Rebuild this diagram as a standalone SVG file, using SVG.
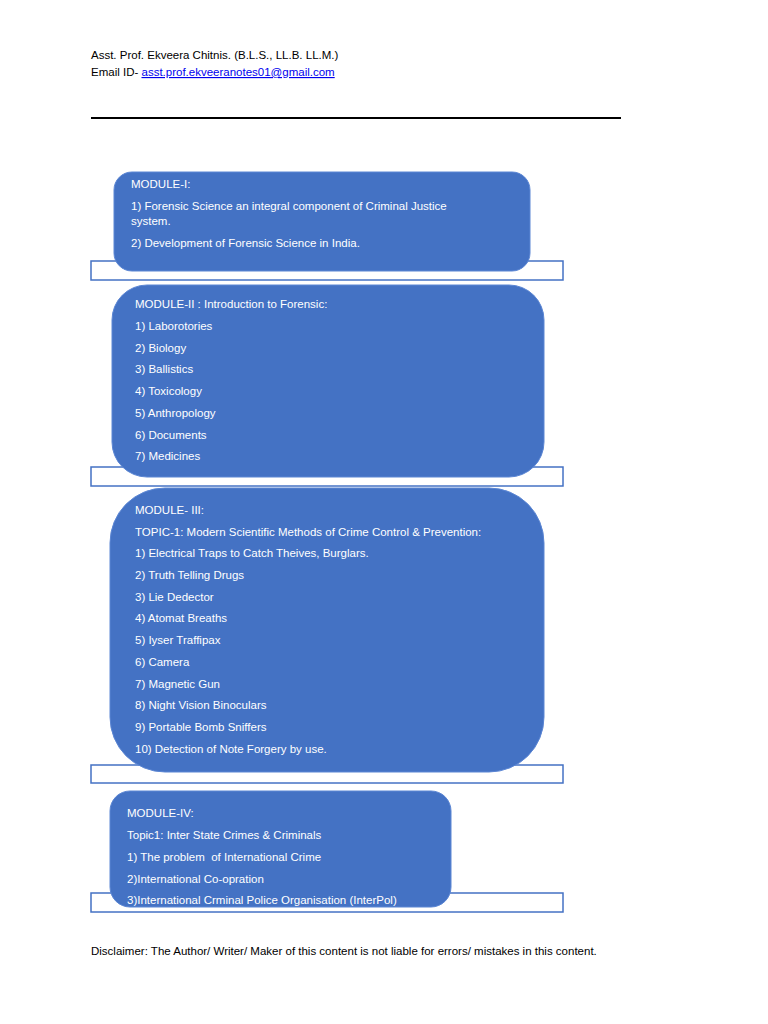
<svg xmlns="http://www.w3.org/2000/svg" width="768" height="1024" viewBox="0 0 768 1024">
<style>
text{font-family:"Liberation Sans",Arial,sans-serif;font-size:11.5px}
.w{fill:#fff}
.k{fill:#000}
.box{fill:#4472c4;stroke:#5b86d4;stroke-width:1}
.bar{fill:#fff;stroke:#4472c4;stroke-width:1.5}
</style>
<rect width="768" height="1024" fill="#fff"/>
<text class="k" x="91" y="59">Asst. Prof. Ekveera Chitnis. (B.L.S., LL.B. LL.M.)</text>
<text class="k" x="91" y="76">Email ID- <tspan fill="#0000ee" text-decoration="underline">asst.prof.ekveeranotes01@gmail.com</tspan></text>
<line x1="91" y1="118" x2="621" y2="118" stroke="#000" stroke-width="2"/>
<g id="connectors">
<rect class="bar" x="91" y="261" width="472" height="19"/>
<rect class="bar" x="91" y="467" width="472" height="19"/>
<rect class="bar" x="91" y="765" width="472" height="18"/>
<rect class="bar" x="91" y="893" width="472" height="19"/>
</g>
<g id="m1">
<rect class="box" x="114" y="172" width="416" height="99" rx="18"/>
<text class="w" x="131" y="188">MODULE-I:</text>
<text class="w" x="131" y="210">1) Forensic Science an integral component of Criminal Justice</text>
<text class="w" x="131" y="225">system.</text>
<text class="w" x="131" y="247">2) Development of Forensic Science in India.</text>
</g>
<g id="m2">
<rect class="box" x="112" y="285" width="432" height="192" rx="35"/>
<text class="w" x="135" y="308">MODULE-II : Introduction to Forensic:</text>
<text class="w" x="135" y="330">1) Laborotories</text>
<text class="w" x="135" y="352">2) Biology</text>
<text class="w" x="135" y="373">3) Ballistics</text>
<text class="w" x="135" y="395">4) Toxicology</text>
<text class="w" x="135" y="417">5) Anthropology</text>
<text class="w" x="135" y="439">6) Documents</text>
<text class="w" x="135" y="460">7) Medicines</text>
</g>
<g id="m3">
<rect class="box" x="110" y="488" width="434" height="284" rx="55"/>
<text class="w" x="135" y="514">MODULE- III:</text>
<text class="w" x="135" y="536">TOPIC-1: Modern Scientific Methods of Crime Control &amp; Prevention:</text>
<text class="w" x="135" y="557">1) Electrical Traps to Catch Theives, Burglars.</text>
<text class="w" x="135" y="579">2) Truth Telling Drugs</text>
<text class="w" x="135" y="601">3) Lie Dedector</text>
<text class="w" x="135" y="622">4) Atomat Breaths</text>
<text class="w" x="135" y="644">5) Iyser Traffipax</text>
<text class="w" x="135" y="666">6) Camera</text>
<text class="w" x="135" y="688">7) Magnetic Gun</text>
<text class="w" x="135" y="709">8) Night Vision Binoculars</text>
<text class="w" x="135" y="731">9) Portable Bomb Sniffers</text>
<text class="w" x="135" y="753">10) Detection of Note Forgery by use.</text>
</g>
<g id="m4">
<rect class="box" x="110" y="791" width="341" height="116" rx="20"/>
<text class="w" x="127" y="817">MODULE-IV:</text>
<text class="w" x="127" y="839">Topic1: Inter State Crimes &amp; Criminals</text>
<text class="w" x="127" y="861" xml:space="preserve">1) The problem  of International Crime</text>
<text class="w" x="127" y="883">2)International Co-opration</text>
<text class="w" x="127" y="904">3)International Crminal Police Organisation (InterPol)</text>
</g>
<text class="k" x="91" y="955">Disclaimer: The Author/ Writer/ Maker of this content is not liable for errors/ mistakes in this content.</text>
</svg>
